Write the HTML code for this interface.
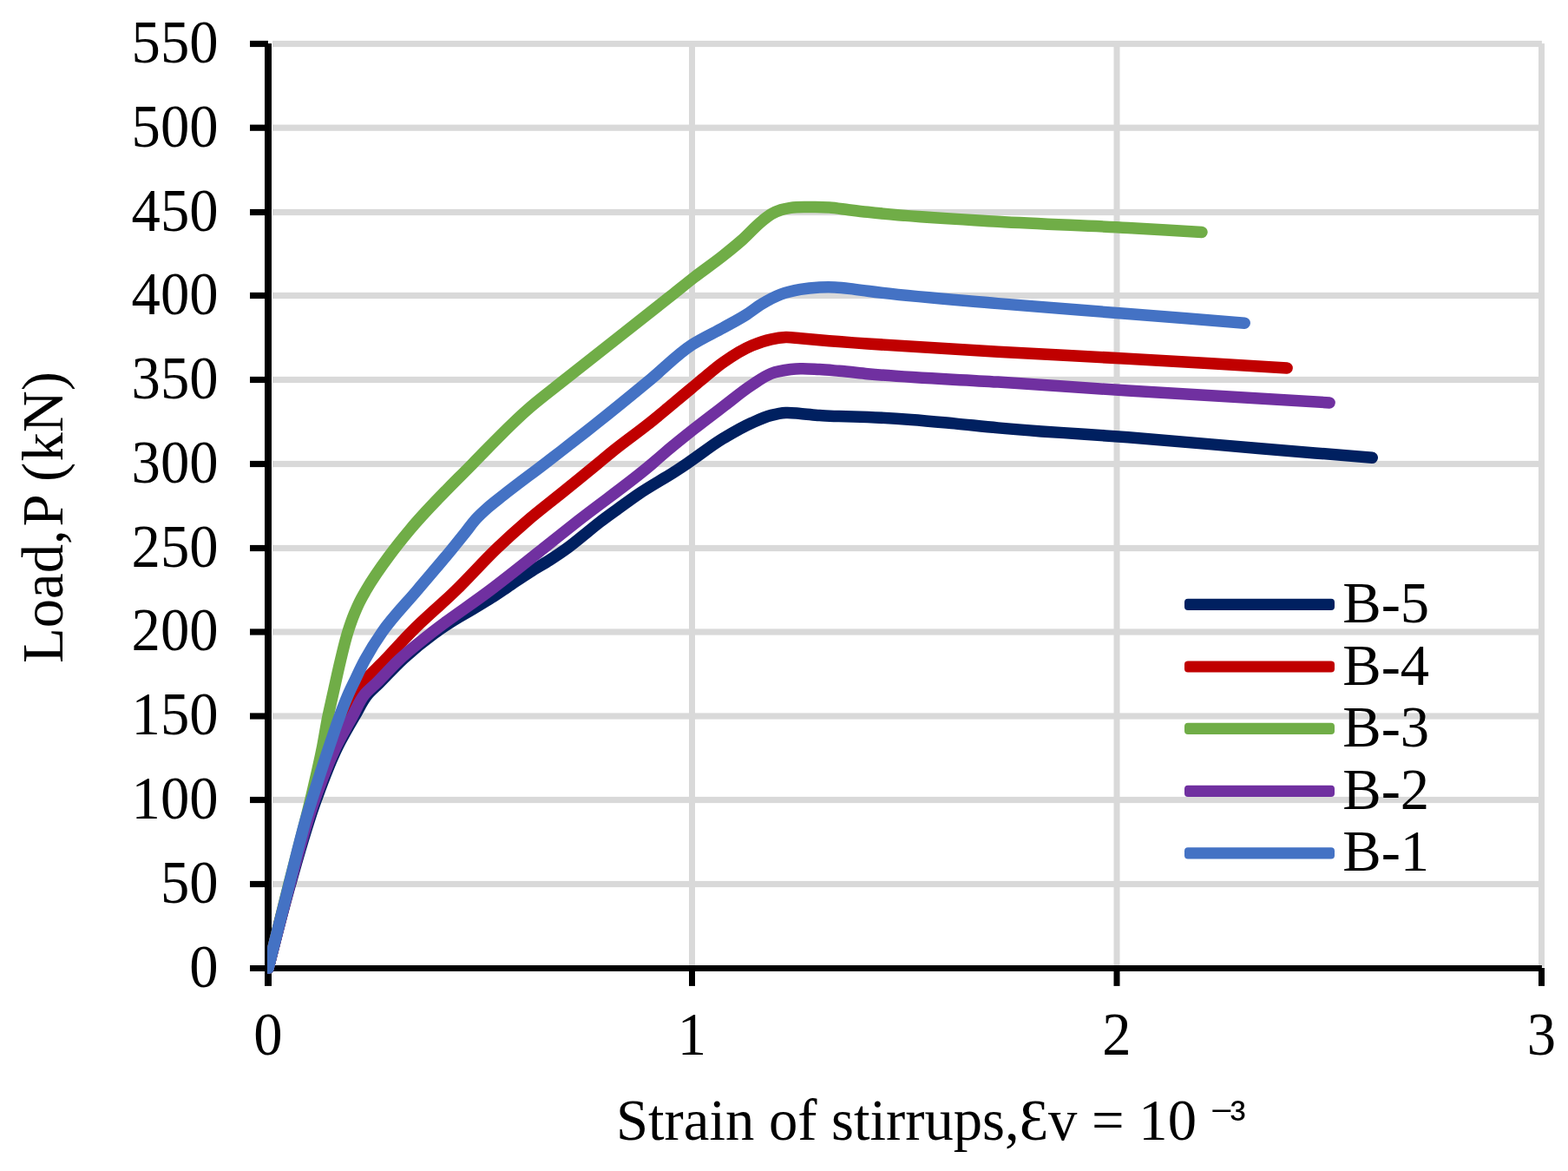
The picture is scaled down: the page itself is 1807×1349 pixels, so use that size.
<!DOCTYPE html>
<html lang="en"><head><meta charset="utf-8"><title>Load vs strain of stirrups</title>
<style>html,body{margin:0;padding:0;background:#fff;overflow:hidden}svg{display:block}text{font-family:'Liberation Serif', 'DejaVu Serif', serif;font-size:66.67px;fill:#000}</style></head><body>
<svg width="1807" height="1349" viewBox="0 0 1807 1349" role="img" aria-label="Load versus strain of stirrups chart">
<rect width="1807" height="1349" fill="#fff"/>
<g fill="#D9D9D9">
<rect x="314" y="1014.9" width="1462.9" height="7.2"/>
<rect x="314" y="917.9" width="1462.9" height="7.2"/>
<rect x="314" y="821.4" width="1462.9" height="7.2"/>
<rect x="314" y="724.4" width="1462.9" height="7.2"/>
<rect x="314" y="627.9" width="1462.9" height="7.2"/>
<rect x="314" y="530.9" width="1462.9" height="7.2"/>
<rect x="314" y="433.9" width="1462.9" height="7.2"/>
<rect x="314" y="336.9" width="1462.9" height="7.2"/>
<rect x="314" y="240.9" width="1462.9" height="7.2"/>
<rect x="314" y="143.6" width="1462.9" height="7.2"/>
<rect x="314" y="46.9" width="1462.9" height="7.2"/>
<rect x="794.0" y="47.0" width="7.0" height="1067.0"/>
<rect x="1283.5" y="47.0" width="7.0" height="1067.0"/>
<rect x="1773.0" y="50.1" width="7.0" height="1063.9"/>
</g>
<g fill="#000">
<rect x="305" y="50.1" width="8" height="1085.8"/>
<rect x="288" y="1112" width="1488.9" height="7"/>
<rect x="288" y="1014.9" width="21" height="7.2"/>
<rect x="288" y="917.9" width="21" height="7.2"/>
<rect x="288" y="821.4" width="21" height="7.2"/>
<rect x="288" y="724.4" width="21" height="7.2"/>
<rect x="288" y="627.9" width="21" height="7.2"/>
<rect x="288" y="530.9" width="21" height="7.2"/>
<rect x="288" y="433.9" width="21" height="7.2"/>
<rect x="288" y="336.9" width="21" height="7.2"/>
<rect x="288" y="240.9" width="21" height="7.2"/>
<rect x="288" y="143.6" width="21" height="7.2"/>
<rect x="288" y="46.9" width="21" height="7.2"/>
<rect x="794.0" y="1115" width="7" height="20.9"/>
<rect x="1283.5" y="1115" width="7" height="20.9"/>
<rect x="1773.0" y="1115" width="7" height="20.9"/>
</g>
<clipPath id="plotclip"><rect x="308" y="0" width="1500" height="1121.8"/></clipPath>
<g fill="none" stroke-width="13.5" stroke-linecap="round" stroke-linejoin="round" clip-path="url(#plotclip)">
<path stroke="#002060" d="M309.0 1115.5C317.5 1083.2 325.4 1050.7 334.6 1018.5C344.0 985.5 353.0 952.2 364.8 920.0C372.2 899.8 379.6 879.3 389.2 860.0C395.2 848.0 402.0 836.5 408.8 824.9C413.7 816.5 417.6 807.4 423.8 800.0C427.7 795.3 432.6 791.4 437.0 787.0C446.0 778.1 454.3 768.6 463.6 760.0C475.1 749.3 487.3 739.2 500.0 730.0C507.2 724.8 514.7 719.8 522.2 715.1C529.5 710.5 537.1 706.4 544.5 702.0C551.9 697.5 559.4 693.1 566.7 688.4C574.2 683.6 581.5 678.4 588.9 673.5C596.3 668.6 603.7 663.6 611.2 658.8C618.5 654.1 626.1 649.9 633.4 645.2C640.7 640.5 648.0 635.7 655.0 630.5C662.9 624.7 670.3 618.3 677.9 612.2C682.3 608.6 686.7 605.0 691.2 601.5C698.3 596.0 705.7 590.8 713.0 585.5C720.5 580.1 727.9 574.5 735.6 569.3C750.0 559.5 765.4 551.4 780.0 541.8C784.0 539.2 788.0 536.5 792.0 533.8C805.9 524.4 819.1 513.8 833.4 505.1C844.2 498.6 855.2 492.1 866.7 487.0C873.9 483.8 881.3 480.4 888.9 478.4C894.3 477.0 900.0 475.8 905.6 475.5C911.1 475.2 916.7 476.0 922.3 476.4C929.7 476.9 937.1 478.1 944.5 478.6C951.9 479.1 959.4 479.3 966.8 479.6C977.9 480.0 988.9 480.1 1000.0 480.5C1016.7 481.2 1033.4 482.2 1050.0 483.4C1066.7 484.6 1083.3 486.3 1100.0 487.9C1116.7 489.5 1133.3 491.4 1150.0 492.9C1166.7 494.4 1183.3 495.7 1200.0 496.9C1216.7 498.1 1233.3 499.1 1250.0 500.2C1266.7 501.4 1283.3 502.5 1300.0 503.8C1350.0 507.6 1400.0 512.3 1450.0 516.5C1493.8 520.1 1537.5 523.7 1581.3 527.3"/>
<path stroke="#C00000" d="M309.0 1115.5C317.2 1083.2 325.1 1050.7 333.7 1018.5C342.5 985.6 350.3 952.3 361.0 920.0C367.7 899.8 375.5 879.9 383.0 860.0C387.4 848.3 391.4 836.3 396.5 824.9C400.3 816.4 404.1 807.9 409.0 800.0C411.8 795.5 414.8 791.2 418.0 787.0C425.6 777.1 435.4 769.1 444.0 760.0C454.1 749.4 463.7 738.4 474.0 728.0C490.5 711.3 508.6 696.4 525.4 680.0C541.8 664.0 556.9 646.6 573.5 630.8C583.9 620.9 594.6 611.2 605.5 601.8C619.9 589.3 635.2 577.8 650.0 565.8C662.8 555.4 675.7 545.0 688.4 534.5C694.2 529.7 700.0 524.8 705.9 520.0C718.7 509.7 732.2 500.2 745.1 490.0C762.9 476.0 780.0 461.1 797.5 446.7C801.2 443.7 804.8 440.6 808.5 437.6C816.7 430.8 824.7 423.6 833.4 417.5C843.9 410.1 854.9 402.9 866.7 398.0C873.8 395.0 881.3 392.4 888.9 390.8C894.4 389.6 900.0 388.8 905.6 388.6C911.1 388.4 916.7 389.4 922.3 389.8C929.7 390.4 937.1 391.2 944.5 391.8C951.9 392.4 959.4 393.0 966.8 393.6C977.9 394.5 988.9 395.2 1000.0 396.0C1050.0 399.5 1100.0 402.4 1150.0 405.3C1200.0 408.2 1250.0 410.4 1300.0 413.2C1361.0 416.6 1422.1 420.4 1483.1 424.0"/>
<path stroke="#70AD47" d="M309.0 1115.5C317.0 1083.2 324.9 1050.8 333.0 1018.5C341.3 985.6 350.4 953.0 358.2 920.0C362.9 900.1 367.7 880.1 371.7 860.0C374.0 848.3 375.7 836.5 378.1 824.9C379.8 816.6 381.8 808.3 383.6 800.0C386.6 786.7 389.4 773.3 392.6 760.0C395.2 749.3 397.6 738.5 400.9 728.0C403.2 720.8 405.6 713.7 408.5 706.7C410.4 702.2 412.3 697.7 414.5 693.3C416.7 688.8 419.3 684.4 421.8 680.0C429.8 666.1 439.2 652.9 448.8 640.0C456.4 629.7 464.4 619.8 472.6 610.0C494.8 583.3 520.1 559.2 544.5 534.4C566.0 512.6 586.9 490.0 610.1 470.0C623.2 458.7 637.1 448.4 650.6 437.6C691.7 404.9 733.2 372.7 774.3 340.0C782.9 333.2 791.3 326.2 800.0 319.5C811.0 311.0 822.5 303.2 833.4 294.5C840.9 288.5 848.4 282.5 855.6 276.1C863.2 269.3 869.9 261.4 877.8 255.0C881.4 252.1 884.9 249.0 888.9 246.7C892.4 244.7 896.2 242.9 900.0 241.7C903.6 240.5 907.4 240.0 911.2 239.4C918.5 238.3 926.0 238.7 933.4 238.6C940.8 238.5 948.2 238.5 955.6 239.0C963.1 239.5 970.5 240.8 977.9 241.7C985.3 242.6 992.6 243.5 1000.0 244.3C1049.8 249.9 1100.0 252.2 1150.0 255.2C1200.0 258.2 1250.0 259.7 1300.0 262.4C1328.3 264.0 1356.7 265.7 1385.0 267.4"/>
<path stroke="#7030A0" d="M309.0 1115.5C317.4 1083.2 325.2 1050.7 334.1 1018.5C343.2 985.5 351.5 952.2 363.1 920.0C370.4 899.7 377.9 879.4 387.3 860.0C393.1 848.1 399.9 836.6 406.3 824.9C410.9 816.6 414.2 807.3 420.2 800.0C424.1 795.2 429.2 791.4 433.7 787.0C442.7 778.2 450.8 768.6 460.0 760.0C472.2 748.6 485.4 738.3 498.5 728.0C519.7 711.3 542.5 696.7 564.0 680.5C585.1 664.6 605.7 648.0 626.4 631.6C639.7 621.1 652.9 610.5 666.2 600.0C694.3 577.9 724.0 557.7 751.2 534.5C756.8 529.7 762.3 524.8 767.9 520.0C778.4 511.1 789.2 502.5 800.0 494.0C811.0 485.3 822.2 476.9 833.4 468.4C844.5 460.0 855.1 450.9 866.7 443.4C873.9 438.7 881.0 433.3 888.9 430.3C895.9 427.6 903.7 426.4 911.2 425.5C914.9 425.1 918.6 424.8 922.3 424.7C929.7 424.4 937.1 425.2 944.5 425.6C951.9 426.0 959.4 426.7 966.8 427.3C977.9 428.3 988.9 429.6 1000.0 430.7C1049.9 435.4 1100.0 436.9 1150.0 440.1C1200.0 443.3 1250.0 446.8 1300.0 450.0C1377.3 454.9 1454.7 459.3 1532.1 463.9"/>
<path stroke="#4472C4" d="M309.0 1115.5C317.1 1083.2 325.1 1050.8 333.3 1018.5C340.0 992.3 345.9 965.9 353.6 940.0C355.6 933.3 357.7 926.7 359.8 920.0C366.1 899.9 372.7 879.9 379.4 860.0C383.4 848.3 387.2 836.5 391.5 824.9C394.6 816.5 397.7 808.2 401.3 800.0C403.2 795.6 405.3 791.3 407.4 787.0C411.7 778.0 415.8 768.8 420.6 760.0C426.6 749.0 433.3 738.3 440.5 728.0C452.4 710.9 467.3 696.0 480.8 680.0C494.0 664.3 507.5 648.9 520.5 633.0C526.0 626.2 531.5 619.4 537.0 612.5C540.7 607.9 544.0 602.9 548.0 598.5C552.3 593.7 557.2 589.3 562.0 585.0C567.8 579.9 574.0 575.3 580.0 570.5C595.8 558.0 612.2 546.1 628.2 533.8C634.2 529.2 640.2 524.6 646.2 520.0C659.0 510.1 671.8 500.1 684.5 490.0C706.4 472.6 728.0 455.0 749.5 437.2C765.6 424.0 780.1 408.5 797.5 397.2C808.9 389.8 821.5 384.2 833.4 377.6C842.5 372.5 851.7 367.8 860.5 362.2C866.4 358.4 871.8 353.9 877.8 350.3C884.9 346.0 892.3 341.9 900.0 339.0C907.1 336.4 914.8 334.7 922.3 333.4C929.6 332.1 937.1 331.4 944.5 331.0C950.3 330.7 956.2 330.6 962.0 330.9C968.0 331.2 974.0 331.9 980.0 332.6C986.7 333.4 993.3 334.4 1000.0 335.3C1049.8 341.8 1100.0 345.2 1150.0 349.6C1200.0 354.0 1250.0 357.5 1300.0 361.5C1344.7 365.1 1389.5 368.6 1434.2 372.2"/>
</g>
<g text-anchor="end">
<text transform="translate(251.6 1136.8) scale(1 1.055)">0</text>
<text transform="translate(251.6 1039.8) scale(1 1.055)">50</text>
<text transform="translate(251.6 942.8) scale(1 1.055)">100</text>
<text transform="translate(251.6 846.3) scale(1 1.055)">150</text>
<text transform="translate(251.6 749.3) scale(1 1.055)">200</text>
<text transform="translate(251.6 652.8) scale(1 1.055)">250</text>
<text transform="translate(251.6 555.8) scale(1 1.055)">300</text>
<text transform="translate(251.6 458.8) scale(1 1.055)">350</text>
<text transform="translate(251.6 361.8) scale(1 1.055)">400</text>
<text transform="translate(251.6 265.8) scale(1 1.055)">450</text>
<text transform="translate(251.6 168.5) scale(1 1.055)">500</text>
<text transform="translate(251.6 71.8) scale(1 1.055)">550</text>
</g>
<g text-anchor="middle">
<text transform="translate(309.0 1215.0) scale(1 1.055)">0</text>
<text transform="translate(797.5 1215.0) scale(1 1.055)">1</text>
<text transform="translate(1287.0 1215.0) scale(1 1.055)">2</text>
<text transform="translate(1776.5 1215.0) scale(1 1.055)">3</text>
</g>
<rect x="1365" y="689.8" width="173" height="13.2" rx="4" ry="4" fill="#002060"/>
<text transform="translate(1547.2 717.0) scale(1 1.020)">B-5</text>
<rect x="1365" y="761.4" width="173" height="13.2" rx="4" ry="4" fill="#C00000"/>
<text transform="translate(1547.2 788.6) scale(1 1.020)">B-4</text>
<rect x="1365" y="832.8" width="173" height="13.2" rx="4" ry="4" fill="#70AD47"/>
<text transform="translate(1547.2 860.0) scale(1 1.020)">B-3</text>
<rect x="1365" y="904.8" width="173" height="13.2" rx="4" ry="4" fill="#7030A0"/>
<text transform="translate(1547.2 932.0) scale(1 1.020)">B-2</text>
<rect x="1365" y="976.2" width="173" height="13.2" rx="4" ry="4" fill="#4472C4"/>
<text transform="translate(1547.2 1003.4) scale(1 1.020)">B-1</text>
<text transform="translate(710.0 1312.6) scale(1 1.02)">Strain of stirrups,Ɛv = 10 <tspan font-family="'Liberation Sans', 'DejaVu Sans', sans-serif" font-size="53.3px" x="683.7 707.7" y="-5.6 -6.0">⁻³</tspan></text>
<text transform="translate(72 764) rotate(-90) scale(1 1.02)">Load,<tspan dx="4">P (</tspan><tspan dx="1.3">kN)</tspan></text>
</svg></body></html>
